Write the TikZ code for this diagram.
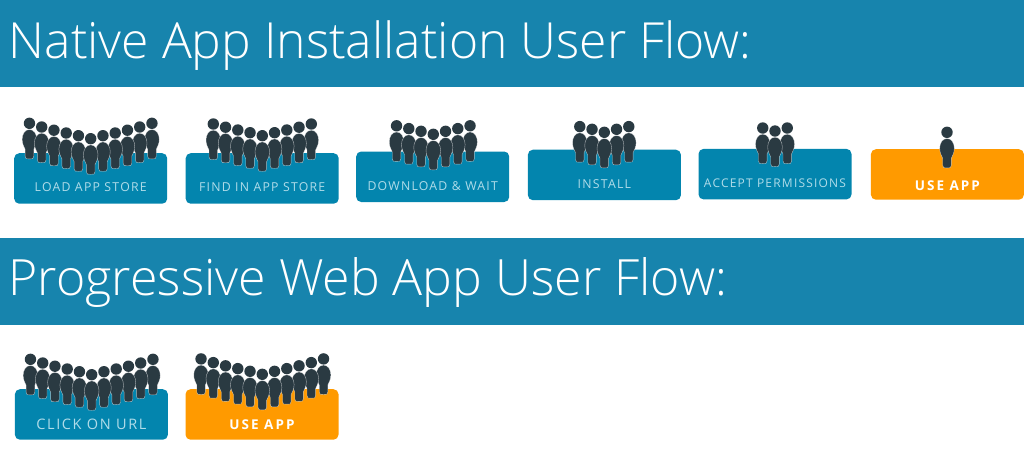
\documentclass[tikz,border=0pt]{standalone}
\usepackage{fontspec}
\setmainfont{Open Sans}
\newfontfamily\titlefont{Open Sans Light}
\usepackage{tikz}
\usetikzlibrary{positioning}
\definecolor{bandblue}{HTML}{1784AD}
\definecolor{boxblue}{HTML}{0385AE}
\definecolor{boxorange}{HTML}{FF9A00}
\definecolor{crowdgray}{HTML}{2A3A42}
\definecolor{labelblue}{HTML}{B0DCE9}
\tikzstyle{band} = [fill=bandblue,minimum width=1024pt,minimum height=87pt,inner sep=0pt,anchor=north west]
\tikzstyle{bandtitle} = [text=white,inner sep=0pt,anchor=base west,font=\titlefont\fontsize{49.8}{50}\selectfont]
\tikzstyle{stepbox} = [fill=boxblue,rounded corners=5pt,minimum width=153pt,minimum height=50.5pt,inner sep=0pt,anchor=north west]
\tikzstyle{usebox} = [stepbox,fill=boxorange]
\tikzstyle{steplabel} = [text=labelblue,inner sep=0pt,anchor=base,font=\fontsize{12.3}{12.3}\selectfont\addfontfeatures{LetterSpace=10}]
\tikzstyle{uselabel} = [text=white,inner sep=0pt,anchor=base,font=\bfseries\fontsize{13.5}{13.5}\selectfont\addfontfeatures{LetterSpace=15}]
\tikzset{person/.pic={
  \fill[crowdgray] (0,0) circle (5.7);
  \filldraw[crowdgray,draw=white,draw opacity=.6,line width=.4pt] (0,6.2)
    .. controls (4.6,6.2) and (7.3,11) .. (7.3,16)
    .. controls (7.3,20.5) and (5.4,23.5) .. (4.3,26)
    -- (4.3,33) .. controls (4.3,35.8) and (3,35.6) .. (0,35.6)
    .. controls (-3,35.6) and (-4.3,35.8) .. (-4.3,33)
    -- (-4.3,26) .. controls (-5.4,23.5) and (-7.3,20.5) .. (-7.3,16)
    .. controls (-7.3,11) and (-4.6,6.2) .. (0,6.2) -- cycle;
}}
% crowd{x}{y}{people on each side of the middle one}
\newcommand{\crowd}[3]{
  \foreach \i/\dy in {5/15.4,4/11.7,3/8.5,2/5.7,1/3}{
    \ifnum\i>#3\relax\else
      \pic at ({#1-12.25*\i},{#2-\dy}) {person};
      \pic at ({#1+12.25*\i},{#2-\dy}) {person};
    \fi
  }
  \pic at (#1,#2) {person};
}

\begin{document}
\begin{tikzpicture}[x=1pt,y=-1pt]
  \useasboundingbox (0,0) rectangle (1024,459);
  % headers
  \node[band] (nativeband) at (0,0) {};
  \node[band] (webband) at (0,238) {};
  \node[bandtitle] (nativetitle) at (8.5,58) {Native App Installation User Flow:};
  \node[bandtitle,font=\titlefont\fontsize{50}{50}\selectfont] (webtitle) at (8.5,295) {Progressive Web App User Flow:};
  % native flow
  \node[stepbox] (loadbox) at (14,153) {};
  \node[stepbox] (findbox) at (185.5,153) {};
  \node[stepbox] (downloadbox) at (356,151.3) {};
  \node[stepbox] (installbox) at (527.7,149.5) {};
  \node[stepbox] (acceptbox) at (698.3,148.7) {};
  \node[usebox] (usebox) at (870.7,149) {};
  \crowd{90.7}{138.7}{5}
  \crowd{262.3}{135.7}{4}
  \crowd{433.3}{134.3}{3}
  \crowd{604.3}{132.3}{2}
  \crowd{775}{131}{1}
  \crowd{947}{132.3}{0}
  \node[steplabel] (loadlabel) at ([yshift=12.5pt]loadbox.south) {LOAD APP STORE};
  \node[steplabel] (findlabel) at ([yshift=12pt]findbox.south) {FIND IN APP STORE};
  \node[steplabel] (downloadlabel) at ([yshift=12pt]downloadbox.south) {DOWNLOAD \& WAIT};
  \node[steplabel] (installlabel) at ([yshift=12pt]installbox.south) {INSTALL};
  \node[steplabel,font=\fontsize{12}{12}\selectfont\addfontfeatures{LetterSpace=10}] (acceptlabel) at ([yshift=12pt]acceptbox.south) {ACCEPT PERMISSIONS};
  \node[uselabel] (uselabel) at ([yshift=9.5pt]usebox.south) {USE APP};
  % web flow
  \node[stepbox] (clickbox) at (14.7,389) {};
  \node[usebox] (webusebox) at (185.3,389) {};
  \crowd{91.7}{374.7}{5}
  \crowd{262.3}{374.3}{5}
  \node[steplabel,font=\fontsize{14.5}{14.5}\selectfont\addfontfeatures{LetterSpace=11}] (clicklabel) at ([yshift=10.5pt]clickbox.south) {CLICK ON URL};
  \node[uselabel] (webuselabel) at ([yshift=10.5pt]webusebox.south) {USE APP};
\end{tikzpicture}
\end{document}
